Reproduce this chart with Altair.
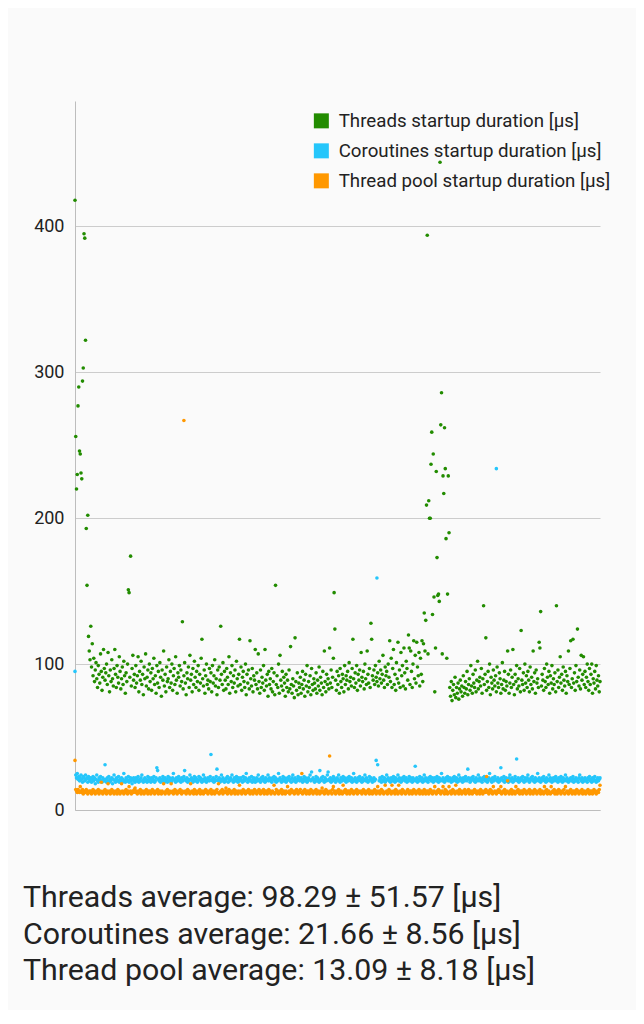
import altair as alt
import pandas as pd

series_names = [
    "Threads startup duration [µs]",
    "Coroutines startup duration [µs]",
    "Thread pool startup duration [µs]",
]
series_colors = ["#228C00", "#25C6FB", "#FF9800"]

summary_lines = [
    "Threads average: 98.29 ± 51.57 [µs]",
    "Coroutines average: 21.66 ± 8.56 [µs]",
    "Thread pool average: 13.09 ± 8.18 [µs]",
]

y_ticks = [0, 100, 200, 300, 400]

threads_us = [
    418, 256, 220, 230, 277, 290, 246, 244, 231, 227, 294, 303, 395, 392, 322, 193, 154, 202, 119, 109,
    103, 126, 98, 114, 92, 104, 88, 96, 101, 90, 84, 99, 93, 87, 107, 95, 82, 91, 110, 97,
    89, 94, 100, 86, 108, 92, 81, 96, 88, 103, 90, 85, 97, 110, 93, 84, 99, 91, 87, 105,
    95, 83, 90, 98, 86, 102, 92, 80, 94, 88, 100, 151, 149, 91, 174, 85, 97, 106, 89, 93,
    84, 99, 87, 92, 105, 81, 95, 89, 102, 86, 93, 79, 98, 90, 107, 85, 91, 96, 83, 100,
    88, 94, 82, 97, 90, 104, 86, 92, 80, 99, 87, 95, 84, 101, 91, 78, 96, 89, 109, 85,
    93, 81, 98, 88, 90, 103, 84, 95, 87, 100, 82, 92, 97, 86, 105, 89, 80, 94, 91, 99,
    85, 96, 88, 129, 83, 92, 101, 87, 79, 94, 90, 98, 84, 106, 89, 93, 81, 97, 86, 102,
    91, 84, 95, 88, 99, 82, 93, 87, 104, 117, 90, 85, 96, 80, 92, 100, 86, 89, 83, 97,
    88, 94, 81, 99, 87, 92, 103, 85, 90, 79, 96, 84, 98, 89, 126, 93, 86, 101, 82, 95,
    89, 83, 97, 91, 86, 105, 80, 94, 88, 99, 84, 92, 87, 96, 81, 102, 90, 85, 93, 117,
    86, 98, 82, 91, 95, 88, 84, 100, 79, 93, 87, 96, 83, 116, 90, 85, 97, 81, 92, 89,
    110, 86, 94, 83, 107, 88, 80, 96, 84, 91, 87, 99, 82, 110, 89, 85, 93, 78, 95, 86,
    90, 83, 97, 81, 88, 94, 79, 154, 86, 92, 84, 100, 80, 106, 89, 85, 95, 82, 91, 87,
    78, 93, 84, 89, 81, 96, 83, 112, 86, 80, 90, 85, 77, 118, 88, 82, 94, 79, 87, 84,
    91, 80, 86, 95, 83, 89, 78, 93, 85, 99, 81, 88, 84, 92, 79, 97, 86, 82, 90, 87,
    83, 94, 80, 89, 85, 98, 82, 91, 87, 79, 95, 84, 109, 88, 81, 93, 86, 90, 83, 111,
    87, 96, 84, 91, 104, 149, 124, 89, 82, 95, 86, 92, 80, 97, 88, 84, 93, 90, 81, 99,
    86, 92, 89, 95, 83, 101, 88, 91, 85, 97, 117, 90, 84, 94, 87, 99, 82, 93, 89, 96,
    85, 108, 91, 88, 95, 83, 100, 90, 86, 109, 93, 87, 97, 84, 128, 117, 92, 89, 96, 86,
    99, 91, 88, 94, 85, 102, 90, 96, 87, 93, 106, 89, 84, 98, 92, 95, 86, 100, 91, 116,
    88, 104, 84, 97, 110, 86, 93, 82, 101, 90, 115, 87, 96, 84, 108, 92, 99, 85, 111, 94,
    83, 102, 97, 89, 120, 111, 86, 109, 95, 84, 100, 116, 90, 106, 87, 115, 98, 92, 108, 85,
    104, 93, 116, 88, 114, 135, 109, 130, 209, 394, 107, 212, 200, 200, 237, 259, 134, 244, 146, 81,
    111, 232, 173, 147, 148, 143, 444, 264, 286, 107, 229, 217, 262, 234, 186, 104, 148, 229, 190, 84,
    78, 88, 75, 82, 86, 79, 91, 77, 84, 80, 87, 76, 83, 89, 81, 85, 78, 92, 84, 80,
    88, 83, 95, 79, 86, 90, 82, 99, 85, 80, 93, 87, 84, 96, 81, 89, 102, 83, 88, 91,
    85, 97, 80, 90, 140, 86, 93, 118, 82, 88, 95, 84, 100, 79, 91, 87, 83, 96, 89, 85,
    92, 81, 98, 87, 84, 94, 90, 80, 86, 101, 83, 89, 95, 82, 88, 85, 109, 93, 80, 87,
    96, 84, 91, 110, 86, 79, 93, 88, 99, 83, 90, 85, 97, 81, 123, 89, 86, 94, 82, 100,
    87, 92, 84, 95, 89, 81, 98, 86, 91, 83, 109, 88, 94, 80, 96, 87, 90, 84, 115, 111,
    136, 85, 93, 89, 82, 97, 88, 84, 100, 91, 86, 95, 80, 92, 87, 99, 83, 90, 86, 94,
    81, 140, 88, 96, 84, 91, 105, 87, 93, 82, 98, 89, 85, 95, 80, 92, 88, 109, 86, 97,
    116, 84, 90, 117, 87, 94, 82, 99, 88, 124, 91, 85, 96, 83, 106, 89, 93, 105, 86, 95,
    84, 91, 100, 88, 82, 97, 86, 93, 100, 80, 90, 87, 95, 83, 99, 89, 85, 92, 81, 88,
]

coroutines_us = [
    95, 24, 22, 25, 21, 23, 20, 22, 24, 21, 19, 23, 22, 20, 24, 21, 22, 19, 23, 21,
    20, 22, 19, 21, 23, 20, 22, 18, 21, 24, 20, 19, 22, 21, 23, 20, 19, 22, 21, 20,
    31, 21, 19, 22, 20, 23, 19, 21, 20, 22, 18, 21, 24, 20, 19, 22, 21, 20, 23, 19,
    21, 20, 22, 19, 21, 25, 20, 19, 22, 21, 20, 23, 19, 21, 22, 20, 18, 21, 22, 20,
    19, 22, 21, 20, 23, 19, 21, 20, 22, 24, 20, 19, 21, 22, 20, 21, 19, 23, 20, 22,
    21, 19, 22, 20, 21, 23, 19, 20, 22, 29, 27, 21, 20, 22, 19, 21, 20, 23, 21, 19,
    22, 20, 21, 19, 23, 20, 22, 21, 19, 20, 22, 25, 21, 20, 19, 22, 21, 20, 23, 21,
    20, 19, 22, 21, 20, 23, 27, 21, 20, 22, 19, 21, 20, 24, 21, 22, 20, 19, 21, 23,
    20, 22, 21, 19, 20, 23, 21, 22, 20, 19, 21, 24, 20, 22, 21, 19, 20, 22, 21, 20,
    23, 38, 21, 20, 22, 19, 21, 20, 23, 28, 21, 20, 22, 19, 21, 24, 20, 22, 21, 19,
    21, 20, 22, 23, 19, 21, 20, 22, 21, 24, 20, 19, 22, 21, 20, 23, 21, 19, 22, 20,
    21, 22, 20, 19, 23, 21, 20, 22, 25, 21, 19, 20, 22, 21, 20, 23, 19, 21, 22, 20,
    19, 21, 22, 20, 24, 21, 20, 19, 22, 21, 23, 20, 21, 19, 22, 20, 21, 24, 20, 22,
    21, 20, 19, 22, 21, 23, 20, 22, 19, 21, 20, 25, 21, 22, 20, 19, 21, 23, 20, 22,
    21, 19, 20, 22, 21, 23, 20, 21, 19, 22, 24, 20, 21, 22, 19, 20, 21, 23, 22, 20,
    21, 22, 20, 19, 21, 23, 20, 22, 21, 19, 20, 22, 21, 24, 20, 26, 21, 22, 20, 19,
    21, 23, 20, 22, 21, 19, 27, 20, 22, 21, 23, 20, 19, 22, 21, 20, 24, 26, 21, 20,
    22, 19, 21, 20, 23, 22, 21, 19, 20, 22, 21, 24, 20, 19, 22, 21, 20, 23, 21, 22,
    20, 19, 21, 22, 20, 23, 21, 20, 22, 19, 21, 25, 20, 22, 21, 19, 20, 22, 21, 23,
    20, 21, 19, 22, 20, 21, 24, 20, 22, 21, 19, 20, 23, 21, 22, 20, 19, 21, 22, 20,
    21, 34, 159, 31, 12, 20, 22, 21, 19, 23, 20, 21, 22, 19, 20, 24, 21, 22, 20, 21,
    19, 22, 21, 20, 23, 21, 19, 22, 20, 21, 24, 20, 22, 21, 19, 20, 22, 21, 23, 20,
    21, 22, 19, 20, 21, 23, 20, 22, 21, 19, 22, 20, 21, 30, 20, 22, 19, 21, 20, 23,
    21, 20, 22, 19, 21, 24, 20, 22, 21, 20, 19, 22, 21, 23, 20, 21, 22, 19, 20, 22,
    21, 20, 23, 21, 19, 22, 20, 21, 25, 20, 22, 21, 19, 20, 22, 21, 23, 20, 21, 22,
    20, 19, 21, 22, 20, 23, 21, 20, 22, 19, 21, 24, 20, 22, 21, 20, 19, 22, 21, 20,
    23, 21, 20, 28, 22, 21, 19, 20, 22, 21, 23, 20, 21, 19, 22, 20, 21, 24, 20, 22,
    21, 20, 19, 22, 21, 23, 20, 22, 21, 19, 20, 22, 25, 21, 20, 19, 22, 21, 20, 23,
    21, 234, 20, 22, 19, 21, 20, 29, 22, 21, 20, 23, 19, 21, 22, 20, 21, 19, 22, 24,
    20, 21, 22, 19, 21, 20, 23, 21, 35, 20, 22, 19, 21, 20, 22, 21, 23, 20, 19, 22,
    21, 20, 22, 24, 21, 19, 20, 22, 21, 23, 20, 21, 19, 22, 20, 21, 25, 20, 22, 21,
    19, 20, 22, 21, 23, 20, 21, 19, 22, 20, 21, 24, 20, 22, 21, 19, 20, 22, 21, 20,
    23, 21, 20, 19, 22, 21, 20, 23, 21, 19, 22, 20, 21, 24, 20, 22, 21, 19, 20, 21,
    22, 20, 21, 23, 19, 21, 20, 22, 21, 20, 19, 22, 24, 21, 20, 22, 19, 21, 20, 22,
    21, 20, 19, 22, 21, 23, 20, 21, 19, 22, 20, 21, 23, 20, 19, 21, 22, 20, 21, 22,
]

pool_us = [
    34, 14, 13, 12, 14, 13, 12, 16, 13, 12, 14, 11, 13, 12, 12, 14, 13, 11, 12, 13,
    12, 13, 11, 12, 14, 12, 13, 11, 12, 13, 12, 14, 11, 12, 13, 19, 12, 11, 13, 12,
    14, 12, 11, 13, 18, 12, 13, 11, 12, 14, 12, 13, 11, 12, 13, 12, 11, 14, 12, 13,
    11, 12, 18, 13, 12, 11, 13, 12, 14, 12, 11, 13, 16, 12, 13, 11, 12, 13, 12, 14,
    15, 12, 13, 11, 12, 13, 12, 14, 11, 12, 13, 12, 11, 13, 12, 14, 12, 11, 13, 12,
    13, 11, 12, 14, 12, 13, 11, 12, 13, 12, 14, 11, 12, 13, 12, 11, 13, 12, 18, 12,
    11, 13, 12, 14, 12, 11, 13, 12, 18, 12, 13, 11, 12, 14, 12, 13, 11, 12, 13, 12,
    14, 12, 11, 13, 12, 267, 12, 13, 11, 12, 14, 12, 13, 11, 18, 12, 13, 12, 11, 14,
    12, 13, 11, 12, 13, 12, 14, 11, 12, 13, 12, 11, 13, 12, 14, 12, 13, 11, 12, 13,
    12, 14, 11, 12, 13, 12, 11, 13, 12, 14, 12, 18, 11, 12, 13, 12, 14, 11, 12, 13,
    12, 15, 13, 11, 12, 14, 12, 13, 11, 12, 13, 12, 14, 11, 12, 13, 12, 11, 13, 17,
    12, 13, 11, 12, 14, 12, 13, 11, 12, 13, 12, 14, 12, 11, 13, 12, 13, 11, 12, 14,
    12, 13, 11, 12, 13, 14, 12, 11, 13, 12, 12, 14, 11, 13, 12, 13, 11, 12, 14, 12,
    13, 11, 12, 13, 12, 17, 11, 12, 14, 12, 13, 11, 12, 13, 12, 14, 11, 12, 13, 12,
    11, 13, 12, 16, 12, 13, 11, 12, 14, 12, 13, 12, 11, 13, 12, 14, 12, 11, 13, 12,
    14, 12, 25, 11, 13, 12, 14, 12, 11, 13, 12, 13, 11, 12, 14, 12, 13, 11, 12, 13,
    12, 14, 11, 12, 13, 12, 11, 13, 12, 15, 12, 13, 11, 12, 14, 12, 13, 11, 12, 37,
    13, 12, 11, 14, 16, 12, 13, 11, 12, 13, 12, 14, 11, 12, 13, 12, 11, 17, 13, 12,
    14, 12, 11, 13, 12, 13, 11, 12, 14, 12, 13, 11, 12, 13, 12, 14, 11, 12, 13, 12,
    12, 13, 11, 12, 14, 12, 13, 11, 12, 13, 12, 14, 11, 12, 13, 12, 11, 13, 12, 14,
    12, 11, 13, 16, 12, 13, 11, 12, 14, 12, 13, 11, 12, 17, 12, 13, 11, 12, 14, 12,
    13, 11, 17, 12, 13, 12, 11, 14, 12, 13, 11, 17, 12, 13, 12, 11, 14, 12, 13, 12,
    11, 12, 13, 14, 12, 11, 13, 12, 13, 11, 12, 14, 12, 13, 11, 12, 13, 12, 14, 11,
    12, 13, 12, 11, 13, 14, 12, 11, 13, 12, 13, 11, 12, 14, 12, 13, 11, 12, 13, 16,
    12, 11, 13, 12, 14, 12, 13, 11, 12, 13, 16, 12, 11, 14, 12, 13, 11, 12, 16, 12,
    13, 11, 12, 14, 12, 13, 11, 17, 12, 13, 12, 11, 14, 12, 13, 11, 12, 13, 12, 14,
    11, 12, 13, 12, 14, 11, 12, 13, 12, 11, 13, 12, 14, 12, 13, 11, 12, 13, 12, 11,
    14, 12, 13, 11, 12, 13, 12, 14, 23, 12, 13, 11, 12, 14, 12, 13, 11, 16, 12, 13,
    12, 11, 13, 12, 14, 12, 13, 16, 11, 12, 13, 12, 14, 11, 12, 13, 20, 12, 11, 13,
    12, 14, 11, 12, 13, 12, 11, 16, 13, 12, 14, 12, 11, 13, 12, 13, 11, 12, 14, 12,
    13, 11, 12, 13, 12, 14, 11, 12, 13, 12, 11, 13, 14, 12, 13, 11, 12, 13, 12, 14,
    11, 12, 13, 12, 11, 16, 13, 12, 14, 11, 12, 13, 12, 11, 16, 12, 13, 12, 14, 11,
    12, 13, 11, 12, 14, 12, 13, 11, 12, 13, 12, 14, 11, 16, 12, 13, 12, 11, 13, 12,
    14, 12, 11, 13, 12, 13, 11, 12, 14, 12, 13, 11, 12, 13, 12, 14, 11, 12, 13, 12,
    11, 13, 12, 14, 12, 11, 13, 12, 13, 11, 12, 14, 12, 13, 11, 12, 13, 12, 14, 17,
]

frames = []
for name, vals in zip(series_names, [threads_us, coroutines_us, pool_us]):
    frames.append(pd.DataFrame({"idx": list(range(len(vals))), "value": vals, "series": name}))
df = pd.concat(frames, ignore_index=True)
n_max = max(len(threads_us), len(coroutines_us), len(pool_us)) - 1

FONT = "Roboto"

chart = (
    alt.Chart(df)
    .mark_circle(size=13, opacity=1)
    .encode(
        x=alt.X(
            "idx:Q",
            scale=alt.Scale(domain=[0, n_max], nice=False, zero=False),
            axis=alt.Axis(labels=False, ticks=False, grid=False, title=None,
                          domainColor="#BDBDBD", domainWidth=1),
        ),
        y=alt.Y(
            "value:Q",
            scale=alt.Scale(domain=[0, 486], nice=False),
            axis=alt.Axis(values=y_ticks, title=None, ticks=False, labelPadding=11,
                          labelFontSize=18, labelFont=FONT, labelColor="#222222",
                          gridColor="#CCCCCC", gridWidth=1, domainColor="#BDBDBD"),
        ),
        color=alt.Color(
            "series:N",
            scale=alt.Scale(domain=series_names, range=series_colors),
            sort=series_names,
            legend=alt.Legend(
                orient="none", legendX=237, legendY=10.5, title=None,
                symbolType="square", symbolSize=225, symbolStrokeWidth=0,
                symbolOpacity=1, labelFontSize=18.7, labelFont=FONT,
                labelColor="#222222", labelOffset=8, rowPadding=10,
                labelLimit=400,
            ),
        ),
    )
    .properties(
        width=525,
        height=709,
        padding={"left": 67, "top": 93, "right": 36, "bottom": 200},
        autosize=alt.AutoSizeParams(type="none"),
        background="#FAFAFA",
        title=alt.TitleParams(
            text=summary_lines,
            orient="bottom",
            anchor="start",
            frame="group",
            dx=-52,
            offset=64,
            font=FONT,
            fontSize=30.3,
            fontWeight="normal",
            color="#222222",
            lineHeight=36.5,
        ),
    )
    .configure_view(stroke=None)
)

chart.save("out.html", embed_options={"renderer": "svg", "actions": False})
